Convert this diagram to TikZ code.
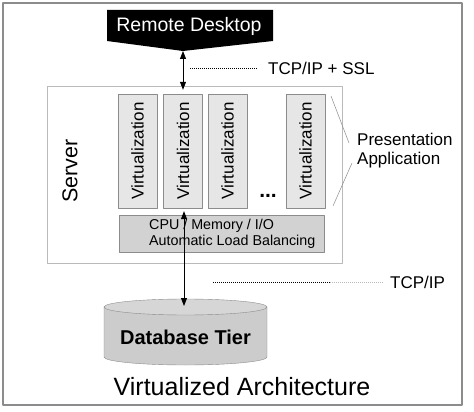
\documentclass[tikz,border=0pt]{standalone}
\usepackage{fontspec}
\setmainfont{Liberation Sans}
\usetikzlibrary{arrows.meta, calc}

\definecolor{framegray}{HTML}{8C8C8C}
\definecolor{boxgray}{HTML}{E6E6E6}
\definecolor{cpugray}{HTML}{D2D2D2}
\definecolor{dbgray}{HTML}{CCCCCC}

\tikzset{
    virtbox/.style={draw=framegray, fill=boxgray, minimum width=39pt, minimum height=114pt,
        inner sep=0pt, font=\fontsize{17}{19}\selectfont},
    label17/.style={font=\fontsize{17}{19}\selectfont, inner sep=0pt},
    dotline/.style={line width=0.6pt, dash pattern=on 1pt off 1pt},
    link/.style={line width=0.8pt, {Triangle[length=8pt,width=6pt]}-{Triangle[length=8pt,width=6pt]}},
}

\begin{document}
\begin{tikzpicture}[x=1pt, y=-1pt, line join=round]
    % --- FRAME ---
    \useasboundingbox (0,0) rectangle (474,412);
    \draw[framegray, line width=1.2pt] (3,3) rectangle (462,405);

    % --- REMOTE DESKTOP ---
    \fill (107,10) -- (273,10) -- (273,41) -- (183,51) -- (107,41) -- cycle;
    \node[text=white, font=\fontsize{19.5}{21}\selectfont, inner sep=0pt] (rd) at (189,26) {Remote Desktop};
    \coordinate (rdtip) at (183,51);

    % --- SERVER ---
    \draw[draw=framegray!60, fill=white] (47,86) rectangle (342,263);
    \node[rotate=90, font=\fontsize{21.5}{23}\selectfont, inner sep=0pt] (server) at (70,171) {Server};

    % Virtualization columns
    \foreach \name/\x in {v1/137.5, v2/183, v3/227.5, v4/305.5}
        \node[virtbox] (\name) at (\x,151) {\rotatebox{90}{Virtualization}};
    \node[font=\bfseries\fontsize{21}{23}\selectfont, inner sep=0pt] (dots) at (268,196) {...};

    % CPU / load balancing block
    \node[draw=framegray, fill=cpugray, minimum width=205pt, minimum height=37pt] (cpu) at (221.5,233.5) {};
    \node[anchor=west, align=left, inner sep=0pt, font=\fontsize{14.3}{16}\selectfont] (cpulabel) at (149,234)
        {CPU / Memory / I/O\\Automatic Load Balancing};

    % --- DATABASE ---
    \fill[dbgray] (104,307) -- (104,357) arc[start angle=180, end angle=360, x radius=81.5pt, y radius=8pt]
        -- (267,307) -- cycle;
    \draw[framegray] (104,307) -- (104,357) arc[start angle=180, end angle=360, x radius=81.5pt, y radius=8pt]
        -- (267,307);
    \draw[framegray, fill=dbgray!80] (185.5,307) ellipse[x radius=81.5pt, y radius=8pt];
    \node[font=\bfseries\fontsize{20}{22}\selectfont, inner sep=0pt] (db) at (185.5,337) {Database Tier};
    \coordinate (dbtop) at (184,306);

    % --- CONNECTIONS ---
    \draw[link] (rdtip) -- ([yshift=4pt]v2.north);
    \draw[link] ([xshift=1pt, yshift=-3pt]v2.south) -- (dbtop);

    % --- LABELS ---
    \node[label17, anchor=west] (ssl) at (268,68) {TCP/IP + SSL};
    \coordinate (sslend) at (190,68);
    \draw[dotline] (sslend) -- ([xshift=-10pt]ssl.west);

    \node[label17, anchor=west] (tcp) at (390,282) {TCP/IP};
    \coordinate (tcpend) at (213,282);
    \coordinate (tcpmid) at (330,282);
    \draw[dotline] (tcpend) -- (tcpmid);
    \draw[dotline, framegray!60] (tcpmid) -- ([xshift=-7pt]tcp.west);

    \node[label17, anchor=west, align=left] (pres) at (357,151)
        {Presentation\\Application};
    \coordinate (presup) at (331,96);
    \coordinate (preslow) at (333,206);
    \draw[framegray, line width=0.5pt] (presup) -- ([shift={(-8pt,8pt)}]pres.west);
    \draw[framegray, line width=0.5pt] (preslow) -- ([shift={(-5pt,-12pt)}]pres.west);

    % --- TITLE ---
    \node[font=\fontsize{25}{27}\selectfont, inner sep=0pt] (title) at (242,387) {Virtualized Architecture};

\end{tikzpicture}
\end{document}
